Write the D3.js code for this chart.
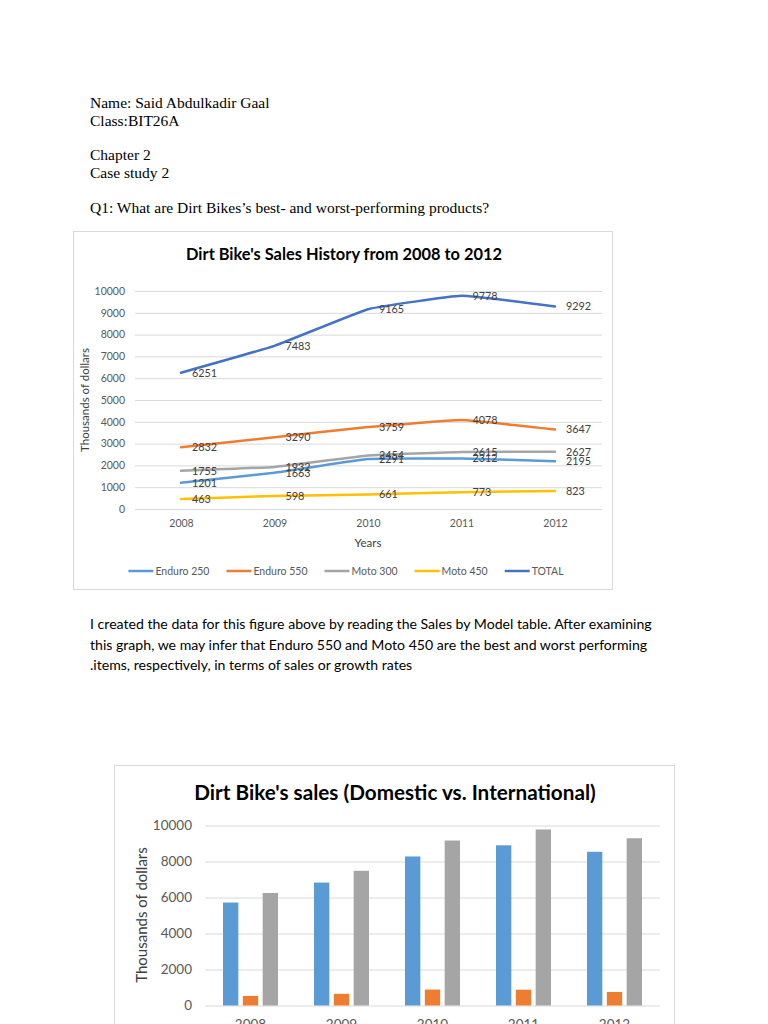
<!DOCTYPE html>
<html>
<head>
<meta charset="utf-8">
<script src="https://cdnjs.cloudflare.com/ajax/libs/d3/7.8.5/d3.min.js"></script>
<style>
    body { margin: 0; background: #fff; }
    svg { display: block; }
    .doc { font-family: "Liberation Serif", "Times New Roman", serif; font-size: 15.5px; fill: #000; }
    .para { font-family: Lato, "Open Sans", sans-serif; font-size: 14.1px; fill: #000; }
    .chart text { font-family: Lato, "Open Sans", sans-serif; }
    .grid line { stroke: #d9d9d9; stroke-width: 1; }
    .grid path, .ticks path { display: none; }
</style>
</head>
<body>
<svg id="page" width="768" height="1024"></svg>
<script>
var years = ['2008', '2009', '2010', '2011', '2012'];

// sales by model, thousands of dollars
var enduro250 = [1201, 1663, 2291, 2312, 2195];
var enduro550 = [2832, 3290, 3759, 4078, 3647];
var moto300 = [1755, 1932, 2454, 2615, 2627];
var moto450 = [463, 598, 661, 773, 823];
var totalSales = [6251, 7483, 9165, 9778, 9292];
var lineNames = ['Enduro 250', 'Enduro 550', 'Moto 300', 'Moto 450', 'TOTAL'];
var lineTicks = [0, 1000, 2000, 3000, 4000, 5000, 6000, 7000, 8000, 9000, 10000];

// domestic vs international
var domestic = [5720, 6830, 8280, 8900, 8540];
var international = [530, 650, 885, 878, 752];
var barNames = ['Domestic', 'International', 'Total'];
var barTicks = [0, 2000, 4000, 6000, 8000, 10000];

var headerLines = ['Name: Said Abdulkadir Gaal', 'Class:BIT26A', 'Chapter 2', 'Case study 2',
    'Q1: What are Dirt Bikes\u2019s best- and worst-performing products?'];
var paragraphLines = [
    'I created the data for this figure above by reading the Sales by Model table. After examining',
    'this graph, we may infer that Enduro 550 and Moto 450 are the best and worst performing',
    '.items, respectively, in terms of sales or growth rates'
];

var svg = d3.select('#page');

function drawText() {
    var headerY = [108, 126, 160, 178, 213];
    svg.selectAll('text.doc').data(headerLines).enter().append('text')
        .attr('class', 'doc')
        .attr('x', 90)
        .attr('y', function (d, i) { return headerY[i]; })
        .text(function (d) { return d; });

    svg.selectAll('text.para').data(paragraphLines).enter().append('text')
        .attr('class', 'para')
        .attr('x', 90)
        .attr('y', function (d, i) { return 629 + i * 20.5; })
        .text(function (d) { return d; });
}

function drawLineChart() {
    var colors = ['#5B9BD5', '#ED7D31', '#A5A5A5', '#FFC000', '#4472C4'];
    var series = [enduro250, enduro550, moto300, moto450, totalSales];
    var left = 135, right = 602, top = 291, bottom = 509;

    var g = svg.append('g').attr('class', 'chart');
    g.append('rect')
        .attr('x', 73.5).attr('y', 231.5).attr('width', 539).attr('height', 358)
        .attr('fill', '#fff').attr('stroke', '#d9d9d9');

    g.append('text')
        .attr('x', 344).attr('y', 260)
        .attr('text-anchor', 'middle')
        .attr('font-size', '16.4px').attr('font-weight', 'bold').attr('fill', '#000')
        .text("Dirt Bike's Sales History from 2008 to 2012");

    var x = d3.scalePoint().domain(years).range([181, 555]);
    var y = d3.scaleLinear().domain([0, 10000]).range([bottom, top]);

    g.append('g').attr('class', 'grid')
        .attr('transform', 'translate(' + left + ',0)')
        .call(d3.axisLeft(y).tickValues(lineTicks).tickSize(-(right - left)).tickFormat(''));

    var yAxis = g.append('g').attr('class', 'ticks')
        .attr('transform', 'translate(' + left + ',0)')
        .call(d3.axisLeft(y).tickValues(lineTicks).tickSize(0).tickPadding(10).tickFormat(d3.format('d')));
    yAxis.selectAll('text').attr('font-size', '10.5px').attr('fill', '#595959');

    var xAxis = g.append('g').attr('class', 'ticks')
        .attr('transform', 'translate(0,' + bottom + ')')
        .call(d3.axisBottom(x).tickSize(0).tickPadding(11));
    xAxis.selectAll('text').attr('font-size', '10.5px').attr('fill', '#595959');

    g.append('text')
        .attr('transform', 'translate(89,400) rotate(-90)')
        .attr('text-anchor', 'middle')
        .attr('font-size', '11.5px').attr('fill', '#404040')
        .text('Thousands of dollars');

    g.append('text')
        .attr('x', 368).attr('y', 547)
        .attr('text-anchor', 'middle')
        .attr('font-size', '11.5px').attr('fill', '#404040')
        .text('Years');

    var line = d3.line()
        .x(function (d, i) { return x(years[i]); })
        .y(function (d) { return y(d); })
        .curve(d3.curveCardinal.tension(0.7));

    series.forEach(function (values, s) {
        g.append('path').datum(values)
            .attr('fill', 'none')
            .attr('stroke', colors[s])
            .attr('stroke-width', 2.5)
            .attr('stroke-linecap', 'round')
            .attr('d', line);
    });

    series.forEach(function (values, s) {
        g.selectAll('text.lbl' + s).data(values).enter().append('text')
            .attr('class', 'lbl' + s)
            .attr('x', function (d, i) { return x(years[i]) + 11; })
            .attr('y', function (d) { return y(d); })
            .attr('dy', '0.35em')
            .attr('font-size', '10.8px').attr('fill', '#404040')
            .text(function (d) { return d; });
    });

    // legend, laid out from measured text widths and centred under the plot
    var legend = g.append('g');
    var pos = 0;
    lineNames.forEach(function (name, s) {
        var item = legend.append('g').attr('transform', 'translate(' + pos + ',0)');
        item.append('line')
            .attr('x1', 0).attr('x2', 25).attr('y1', 0).attr('y2', 0)
            .attr('stroke', colors[s]).attr('stroke-width', 2.5);
        var t = item.append('text')
            .attr('x', 27).attr('y', 0).attr('dy', '0.35em')
            .attr('font-size', '10.5px').attr('fill', '#595959')
            .text(name);
        pos += 27 + t.node().getComputedTextLength() + 17;
    });
    var legendWidth = pos - 17;
    legend.attr('transform', 'translate(' + (346 - legendWidth / 2) + ',571)');
}

function drawBarChart() {
    var colors = ['#5B9BD5', '#ED7D31', '#A5A5A5'];
    var left = 205, right = 660, top = 825.5, bottom = 1005.5;
    var rows = years.map(function (year, i) {
        return { year: year, values: [domestic[i], international[i], totalSales[i]] };
    });

    var g = svg.append('g').attr('class', 'chart');
    g.append('rect')
        .attr('x', 114.5).attr('y', 765.5).attr('width', 560).attr('height', 300)
        .attr('fill', '#fff').attr('stroke', '#d9d9d9');

    g.append('text')
        .attr('x', 395).attr('y', 800)
        .attr('text-anchor', 'middle')
        .attr('font-size', '20.7px').attr('font-weight', 'bold').attr('fill', '#000')
        .text("Dirt Bike's sales (Domestic vs. International)");

    var x0 = d3.scaleBand().domain(years).range([left, right]);
    var x1 = d3.scaleBand().domain(barNames).range([0, 55]).paddingInner(0.227);
    var y = d3.scaleLinear().domain([0, 10000]).range([bottom, top]);
    var shift = x0.bandwidth() / 2 - 27.5;

    g.append('g').attr('class', 'grid')
        .attr('transform', 'translate(' + left + ',0)')
        .call(d3.axisLeft(y).tickValues(barTicks).tickSize(-(right - left)).tickFormat(''));

    var yAxis = g.append('g').attr('class', 'ticks')
        .attr('transform', 'translate(' + left + ',0)')
        .call(d3.axisLeft(y).tickValues(barTicks).tickSize(0).tickPadding(13).tickFormat(d3.format('d')));
    yAxis.selectAll('text').attr('font-size', '13.5px').attr('fill', '#595959');

    var xAxis = g.append('g').attr('class', 'ticks')
        .attr('transform', 'translate(0,' + bottom + ')')
        .call(d3.axisBottom(x0).tickSize(0).tickPadding(13.5));
    xAxis.selectAll('text').attr('font-size', '13.5px').attr('fill', '#595959');

    g.append('text')
        .attr('transform', 'translate(147,915) rotate(-90)')
        .attr('text-anchor', 'middle')
        .attr('font-size', '15px').attr('fill', '#404040')
        .text('Thousands of dollars');

    var groups = g.selectAll('g.year').data(rows).enter().append('g')
        .attr('class', 'year')
        .attr('transform', function (d) { return 'translate(' + (x0(d.year) + shift) + ',0)'; });

    groups.selectAll('rect').data(function (d) { return d.values; }).enter().append('rect')
        .attr('x', function (d, i) { return x1(barNames[i]); })
        .attr('width', x1.bandwidth())
        .attr('y', function (d) { return y(d); })
        .attr('height', function (d) { return bottom - y(d); })
        .attr('fill', function (d, i) { return colors[i]; });
}

drawText();
drawLineChart();
drawBarChart();
</script>
</body>
</html>
